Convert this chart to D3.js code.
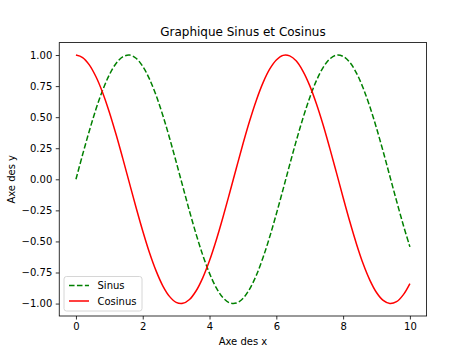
<!DOCTYPE html>
<html><head><meta charset="utf-8">
<script src="https://cdn.jsdelivr.net/npm/d3@7"></script>
<style>body{margin:0;background:#fff}svg{display:block;font-family:"DejaVu Sans",sans-serif}</style>
</head><body><svg id="c" width="474" height="355"></svg>
<script>
const xValues = [0,0.2,0.4,0.6,0.8,1.0,1.2,1.4,1.6,1.8,2.0,2.2,2.4,2.6,2.8,3.0,3.2,3.4,3.6,3.8,4.0,4.2,4.4,4.6,4.8,5.0,5.2,5.4,5.6,5.8,6.0,6.2,6.4,6.6,6.8,7.0,7.2,7.4,7.6,7.8,8.0,8.2,8.4,8.6,8.8,9.0,9.2,9.4,9.6,9.8,10.0];
const sinusValues = [0,0.199,0.389,0.565,0.717,0.841,0.932,0.985,1.000,0.974,0.909,0.808,0.675,0.516,0.335,0.141,-0.058,-0.256,-0.443,-0.612,-0.757,-0.872,-0.952,-0.994,-0.996,-0.959,-0.883,-0.773,-0.631,-0.465,-0.279,-0.083,0.117,0.312,0.494,0.657,0.794,0.899,0.968,0.999,0.989,0.941,0.855,0.734,0.585,0.412,0.223,0.025,-0.174,-0.366,-0.544];
const cosinusValues = [1,0.980,0.921,0.825,0.697,0.540,0.362,0.170,-0.029,-0.227,-0.416,-0.589,-0.737,-0.857,-0.942,-0.990,-0.998,-0.967,-0.897,-0.791,-0.654,-0.490,-0.307,-0.112,0.087,0.284,0.469,0.635,0.776,0.886,0.960,0.997,0.993,0.951,0.869,0.754,0.608,0.439,0.251,0.054,-0.146,-0.340,-0.520,-0.680,-0.811,-0.911,-0.975,-1.000,-0.985,-0.930,-0.839];
const xTicks = [0,2,4,6,8,10];
const yTicks = [-1.00,-0.75,-0.50,-0.25,0.00,0.25,0.50,0.75,1.00];
const seriesNames = ["Sinus","Cosinus"];
const seriesColors = ["#008000","#ff0000"];

const svg = d3.select("#c");
const L=59.25,R=426.6,T=42.6,B=316;
const x = d3.scaleLinear().domain([-0.5,10.5]).range([L,R]);
const y = d3.scaleLinear().domain([-1.1,1.1]).range([B,T]);

const xa = svg.append("g").attr("transform",`translate(0,${B})`)
  .call(d3.axisBottom(x).tickValues(xTicks).tickFormat(d3.format("d")).tickSize(3.5).tickPadding(3.5));
const ya = svg.append("g").attr("transform",`translate(${L},0)`)
  .call(d3.axisLeft(y).tickValues(yTicks).tickFormat(d=>d3.format(".2f")(d).replace("-","\u2212")).tickSize(3.5).tickPadding(3.5));
[xa,ya].forEach(a=>{a.select(".domain").remove();a.selectAll("line").attr("stroke","#000").attr("stroke-width",0.8);
  a.selectAll("text").attr("font-size",10).attr("fill","#000").attr("font-family","DejaVu Sans");});

const line = vals => d3.line().x((d,i)=>x(xValues[i])).y(d=>y(d)).curve(d3.curveCatmullRom)(vals);
svg.append("path").attr("d",line(sinusValues)).attr("fill","none").attr("stroke",seriesColors[0]).attr("stroke-width",1.5).attr("stroke-dasharray","5.55,2.4");
svg.append("path").attr("d",line(cosinusValues)).attr("fill","none").attr("stroke",seriesColors[1]).attr("stroke-width",1.5);

svg.append("rect").attr("x",L).attr("y",T).attr("width",R-L).attr("height",B-T).attr("fill","none").attr("stroke","#000").attr("stroke-width",0.8);

svg.append("text").attr("x",(L+R)/2).attr("y",T-7).attr("text-anchor","middle").attr("font-size",12).text("Graphique Sinus et Cosinus");
svg.append("text").attr("x",(L+R)/2).attr("y",345).attr("text-anchor","middle").attr("font-size",10).text("Axe des x");
svg.append("text").attr("transform",`translate(15,${(T+B)/2}) rotate(-90)`).attr("text-anchor","middle").attr("font-size",10).text("Axe des y");

const lg = svg.append("g");
lg.append("rect").attr("x",64).attr("y",276.5).attr("width",78).attr("height",34.5).attr("rx",2.5)
  .attr("fill","#fff").attr("fill-opacity",0.8).attr("stroke","#cccccc").attr("stroke-width",0.8);
seriesNames.forEach((n,i)=>{
  const yy = 285.5 + i*15.5;
  lg.append("line").attr("x1",69).attr("x2",89).attr("y1",yy).attr("y2",yy).attr("stroke",seriesColors[i]).attr("stroke-width",1.5)
    .attr("stroke-dasharray", i===0?"5.55,2.4":null);
  lg.append("text").attr("x",97.5).attr("y",yy+3.6).attr("font-size",10).text(n);
});
</script></body></html>
